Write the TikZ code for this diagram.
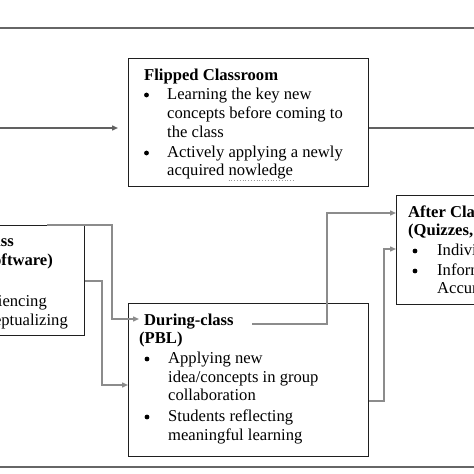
\documentclass[tikz,border=0pt]{standalone}
\usepackage{fontspec}
\setmainfont{Liberation Serif}
\usetikzlibrary{arrows.meta}
\newcommand\dfs{\fontsize{16.6}{19}\selectfont}
\begin{document}
\begin{tikzpicture}[x=1pt,y=-1pt,
 txt/.style={anchor=base west,inner sep=0pt,font=\dfs},
 rtxt/.style={anchor=base east,inner sep=0pt,font=\dfs},
 ttl/.style={anchor=base west,inner sep=0pt,font=\dfs\bfseries},
 rttl/.style={anchor=base east,inner sep=0pt,font=\dfs\bfseries},
 blt/.style={circle,fill=black,inner sep=0pt,minimum size=4.8pt},
 boxframe/.style={draw=black!88,line width=1.4pt,inner sep=0pt,fill=none},
 rulestyle/.style={draw=black!60,line width=1.5pt},
 conn/.style={draw=black!45,line width=1.4pt,-{Triangle[length=6pt,width=5pt]}},
 darkconn/.style={draw=black!62,line width=1.4pt,-{Triangle[length=6pt,width=5pt]}},
 plainconn/.style={draw=black!62,line width=1.4pt},
]
\useasboundingbox (0,0) rectangle (474,474);
\fill[white] (0,0) rectangle (474,474);
\clip (0,0) rectangle (474,474);

% horizontal rules
\coordinate (rtl) at (0,28);
\coordinate (rtr) at (474,28);
\coordinate (rbl) at (0,467);
\coordinate (rbr) at (474,467);
\draw[rulestyle] (rtl) -- (rtr);
\draw[rulestyle] (rbl) -- (rbr);

% boxes
\node[boxframe,anchor=north west,minimum width=240pt,minimum height=128pt] (flip) at (128,58) {};
\node[boxframe,anchor=north east,minimum width=100pt,minimum height=110pt] (pre) at (85,225) {};
\node[boxframe,anchor=north west,minimum width=240pt,minimum height=153pt] (dur) at (128,303) {};
\node[boxframe,anchor=north west,minimum width=95pt,minimum height=109pt] (aft) at (396,195) {};

% Flipped Classroom text
\node[ttl] (ft) at (144,80) {Flipped Classroom};
\node[blt] (fb1) at (146.5,95) {};
\node[txt] (f1) at (167,99) {Learning the key new};
\node[txt] (f2) at (167,118) {concepts before coming to};
\node[txt] (f3) at (167,137) {the class};
\node[blt] (fb2) at (146.5,153) {};
\node[txt] (f4) at (167,157) {Actively applying a newly};
\node[txt] (f5) at (167,175) {acquired nowledge};
\draw[black!40,dotted,line width=0.8pt] (228.5,180) -- (293,180);

% left (cut) box text
\node[rttl] (p1) at (14,246) {Pre-class};
\node[rttl] (p2) at (53,265) {(Software)};
\node[rtxt] (p3) at (47,306) {Experiencing};
\node[rtxt] (p4) at (68,325) {Conceptualizing};

% During-class text
\node[ttl] (dt) at (144,325) {During-class};
\node[ttl] (d0) at (139,343) {(PBL)};
\node[blt] (db1) at (147,359) {};
\node[txt] (d1) at (168,363) {Applying new};
\node[txt] (d2) at (168,382) {idea/concepts in group};
\node[txt] (d3) at (168,400) {collaboration};
\node[blt] (db2) at (147,417) {};
\node[txt] (d4) at (168,421) {Students reflecting};
\node[txt] (d5) at (168,440) {meaningful learning};

% After Class text
\node[ttl] (at) at (408,217) {After Class};
\node[ttl] (a0) at (408,235) {(Quizzes, Feedback)};
\node[blt] (ab1) at (415,251) {};
\node[txt] (a1) at (437,255) {Individual};
\node[blt] (ab2) at (415,271) {};
\node[txt] (a2) at (437,275) {Information};
\node[txt] (a3) at (437,293) {Accuracy};

% connectors
\coordinate (lin) at (0,128);
\coordinate (ftip) at (118,128);
\coordinate (rout) at (474,128);
\draw[darkconn] (lin) -- (ftip);
\draw[plainconn] (flip.east |- rout) -- (rout);

\coordinate (c1s) at (47,225);
\draw[conn] (c1s) -- (112,225) |- (139,319);

\draw[conn] (pre.east |- 0,281) -- (102,281) |- (dur.west |- 0,385);

\coordinate (c3s) at (252,324);
\draw[conn] (c3s) -- (327,324) |- (aft.west |- 0,213);

\draw[conn] (dur.east |- 0,401) -- (384,401) |- (aft.west |- 0,249);
\end{tikzpicture}
\end{document}
